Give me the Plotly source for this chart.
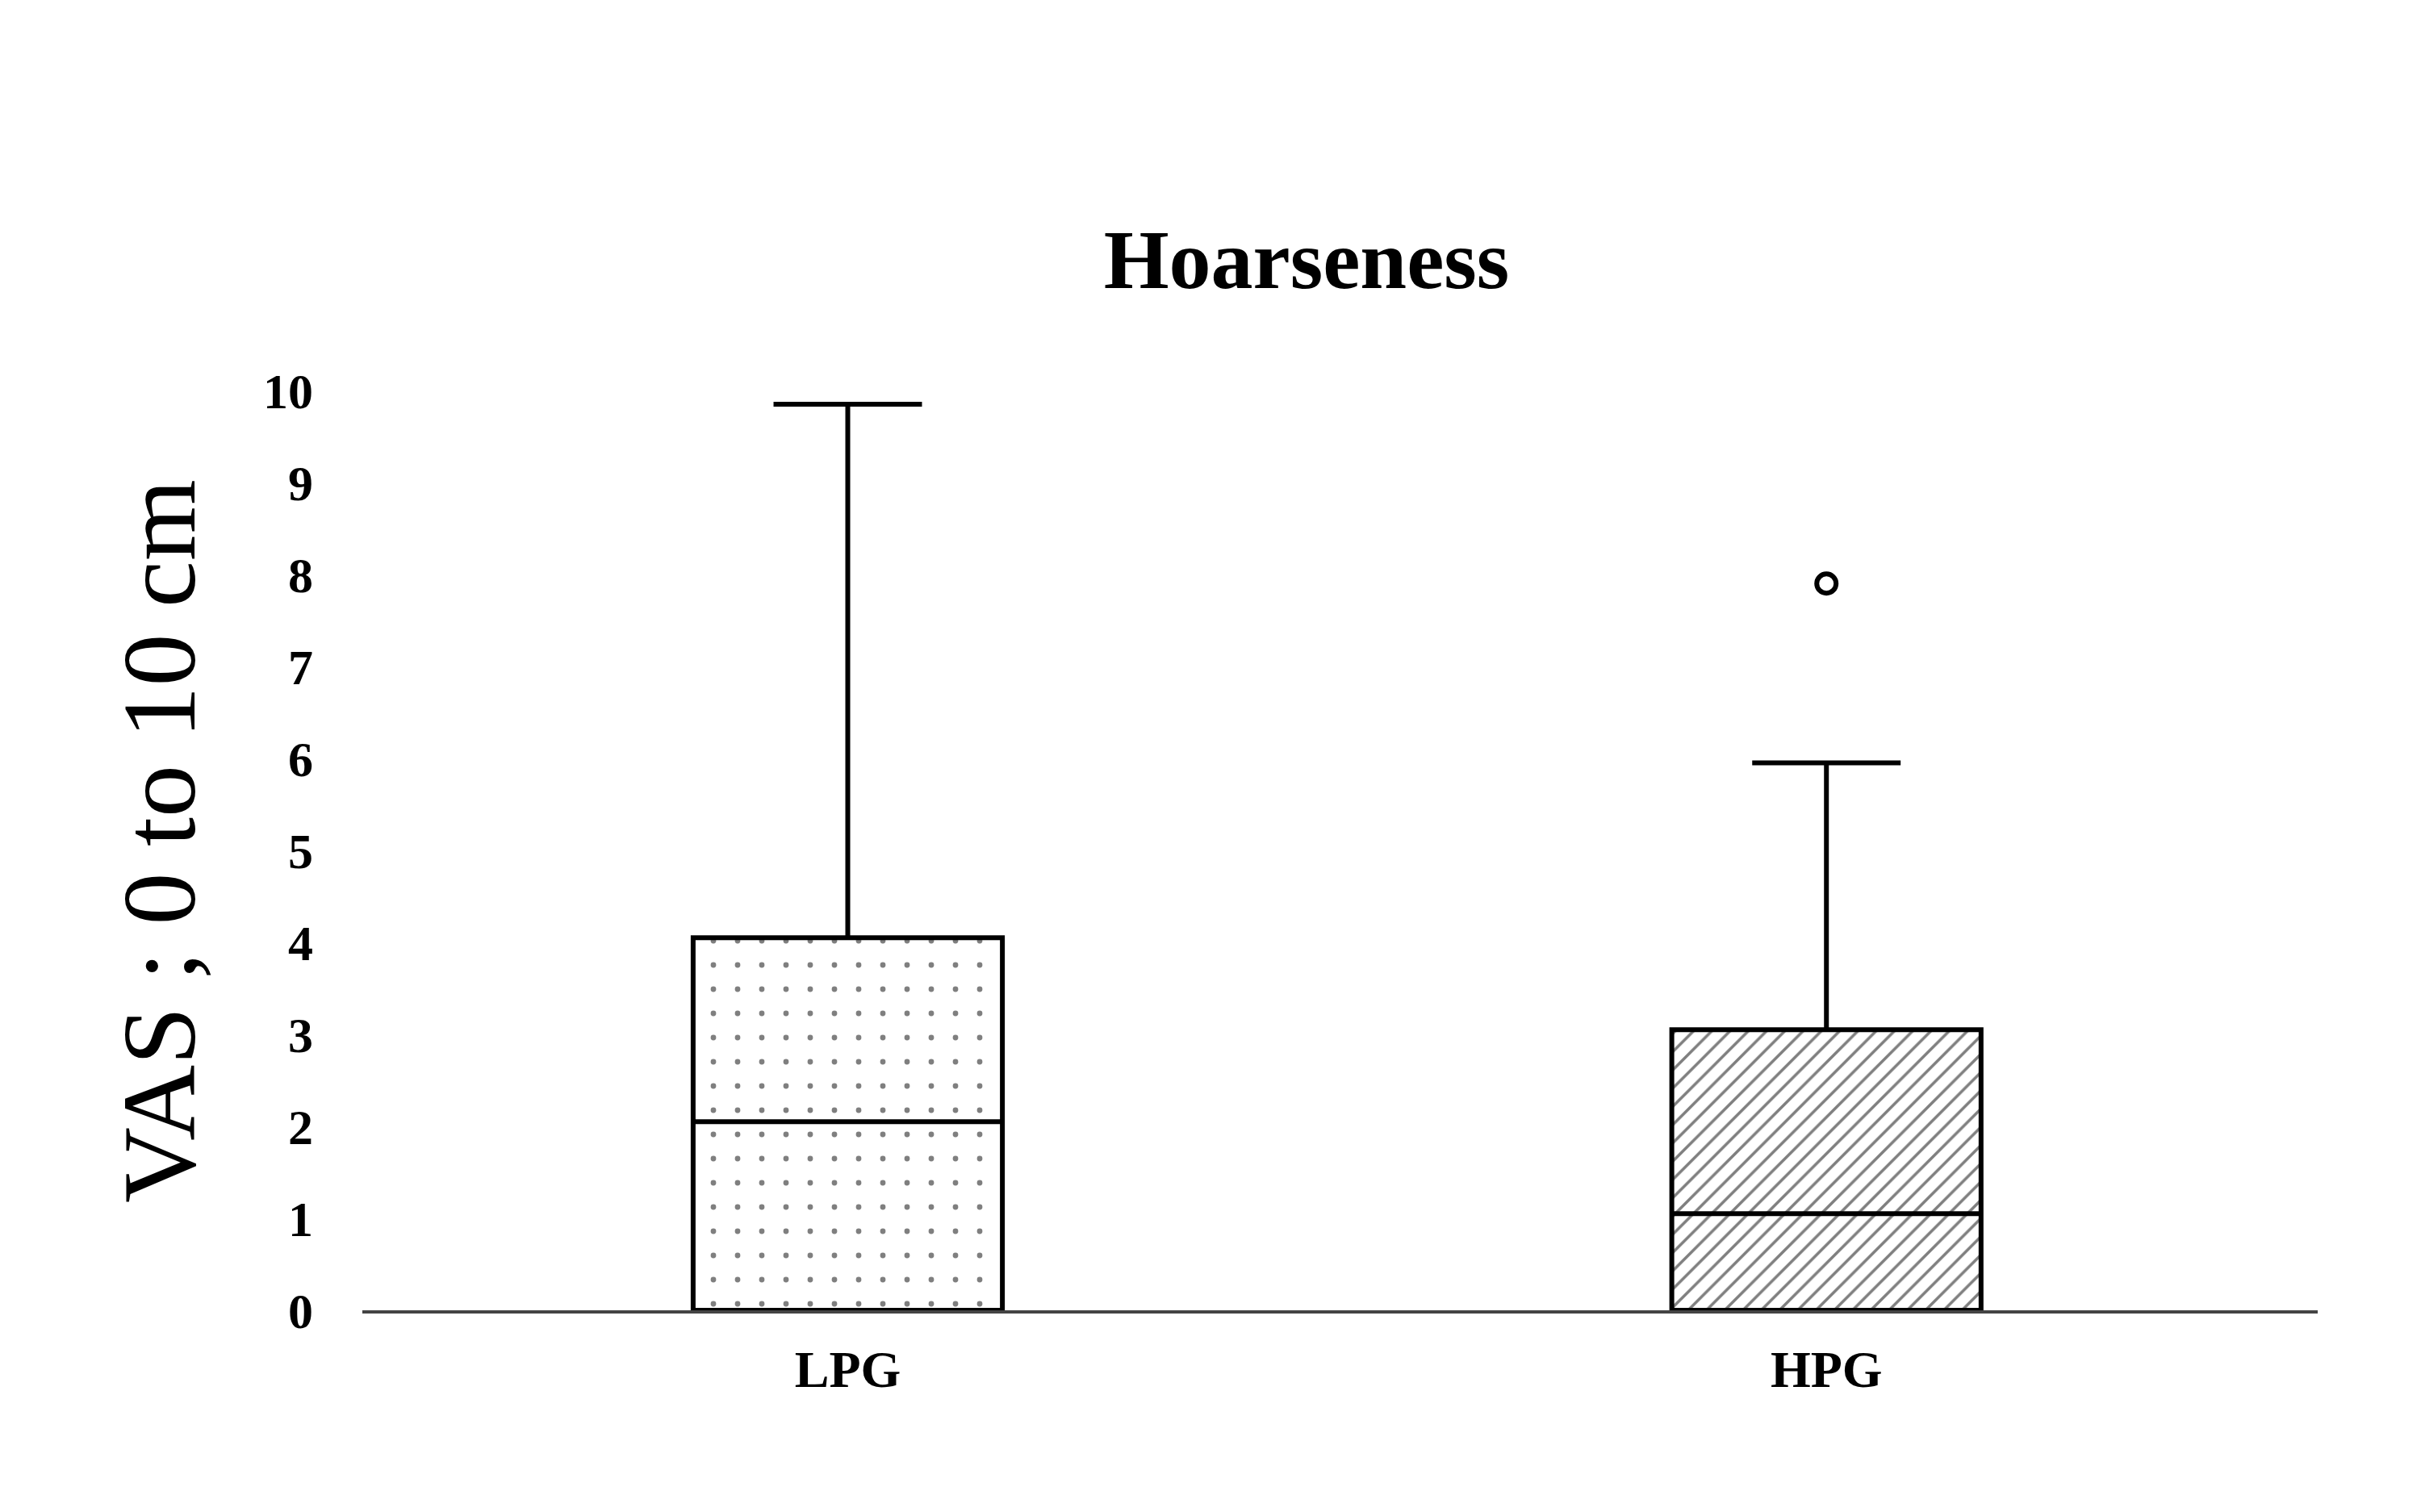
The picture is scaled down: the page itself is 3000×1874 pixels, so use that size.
import plotly.graph_objects as go

groups = ["LPG", "HPG"]
q1 = [0.0, 0.0]
median = [2.05, 1.05]
q3 = [4.05, 3.05]
lower = [0.0, 0.0]
upper = [9.85, 5.95]
outlier_x = [1]
outlier_y = [7.9]
patterns = [".", "/"]
yticks = list(range(0, 11))

fig = go.Figure()
for i, g in enumerate(groups):
    fig.add_trace(go.Bar(x=[i], y=[q3[i] - q1[i]], base=[q1[i]], width=0.316,
                         marker=dict(color="white", line=dict(width=0),
                                     pattern=dict(shape=patterns[i], fgcolor="black", bgcolor="white",
                                                  size=30 if i == 0 else 16, solidity=0.04 if i == 0 else 0.22)),
                         showlegend=False, hoverinfo="skip"))
for i, g in enumerate(groups):
    fig.add_trace(go.Box(x=[i], q1=[q1[i]], median=[median[i]], q3=[q3[i]],
                         lowerfence=[lower[i]], upperfence=[upper[i]], width=0.316,
                         whiskerwidth=0.48, fillcolor="rgba(0,0,0,0)",
                         line=dict(color="black", width=6), boxpoints=False, showlegend=False))
fig.add_trace(go.Scatter(x=outlier_x, y=outlier_y, mode="markers",
                         marker=dict(symbol="circle-open", size=24, color="black", line=dict(width=6)),
                         showlegend=False))

fig.update_layout(
    width=3000, height=1874, plot_bgcolor="white", paper_bgcolor="white",
    margin=dict(l=441, r=136, t=453, b=258),
    font=dict(family="Liberation Serif", color="black"),
    title=dict(text="<b>Hoarseness</b>", x=0.537, xanchor="center", y=1 - 313 / 1874, yanchor="middle",
               font=dict(size=104)),
    barmode="overlay",
    xaxis=dict(range=[-0.496, 1.502], tickvals=[0, 1], ticktext=["<b>%s</b>" % g for g in groups],
               tickfont=dict(size=64), showgrid=False, zeroline=False, showline=True,
               linecolor="#444", linewidth=4, ticks="", ticklen=0, ticklabelstandoff=14),
    yaxis=dict(range=[0, 10.2], tickvals=yticks, ticktext=["<b>%d</b>" % v for v in yticks],
               tickfont=dict(size=62), showgrid=False, zeroline=False, showline=False, ticks="",
               ticklabelstandoff=60,
               title=dict(text="VAS ; 0 to 10 cm", font=dict(size=130), standoff=40)),
)
fig.write_html("out.html")
